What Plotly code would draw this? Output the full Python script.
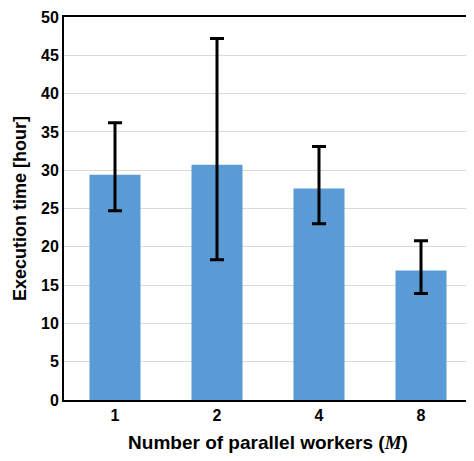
import plotly.graph_objects as go

workers = ["1", "2", "4", "8"]
exec_hours = [29.4, 30.7, 27.6, 16.9]
err_upper = [36.2, 47.2, 33.1, 20.8]
err_lower = [24.7, 18.3, 23.0, 13.9]

err_plus = [hi - v for hi, v in zip(err_upper, exec_hours)]
err_minus = [v - lo for lo, v in zip(err_lower, exec_hours)]

FONT = "Liberation Sans, Arial, sans-serif"

fig = go.Figure()
fig.add_trace(
    go.Bar(
        x=workers,
        y=exec_hours,
        marker={"color": "#5B9BD5", "line": {"width": 0}},
        error_y={
            "type": "data",
            "symmetric": False,
            "array": err_plus,
            "arrayminus": err_minus,
            "color": "black",
            "thickness": 3,
            "width": 7,
        },
    )
)

# page body has an 8px default margin, so the figure is a bit smaller
fig.update_layout(
    width=466,
    height=453,
    margin={"l": 56, "r": 2, "t": 9, "b": 61},
    paper_bgcolor="white",
    plot_bgcolor="white",
    bargap=0.5,
    showlegend=False,
    font={"family": FONT, "color": "black", "size": 16},
    xaxis={
        "type": "category",
        "automargin": False,
        "title": {
            "text": "<b>Number of parallel workers (<i><span style='font-family:Liberation Serif'>M</span></i>)</b>",
            "font": {"size": 19},
            "standoff": 12,
        },
        "tickfont": {"size": 16, "weight": "bold"},
        "showline": True,
        "linecolor": "black",
        "linewidth": 2,
        "mirror": True,
        "ticks": "",
    },
    yaxis={
        "automargin": False,
        "title": {"text": "<b>Execution time [hour]</b>", "font": {"size": 18}, "standoff": 10},
        "range": [0, 50],
        "dtick": 5,
        "tickfont": {"size": 16, "weight": "bold"},
        "ticklabeloverflow": "allow",
        "showgrid": True,
        "gridcolor": "#d9d9d9",
        "gridwidth": 1,
        "showline": True,
        "linecolor": "black",
        "linewidth": 2,
        "mirror": True,
        "ticks": "",
        "zeroline": False,
    },
)

fig.write_html("out.html")
